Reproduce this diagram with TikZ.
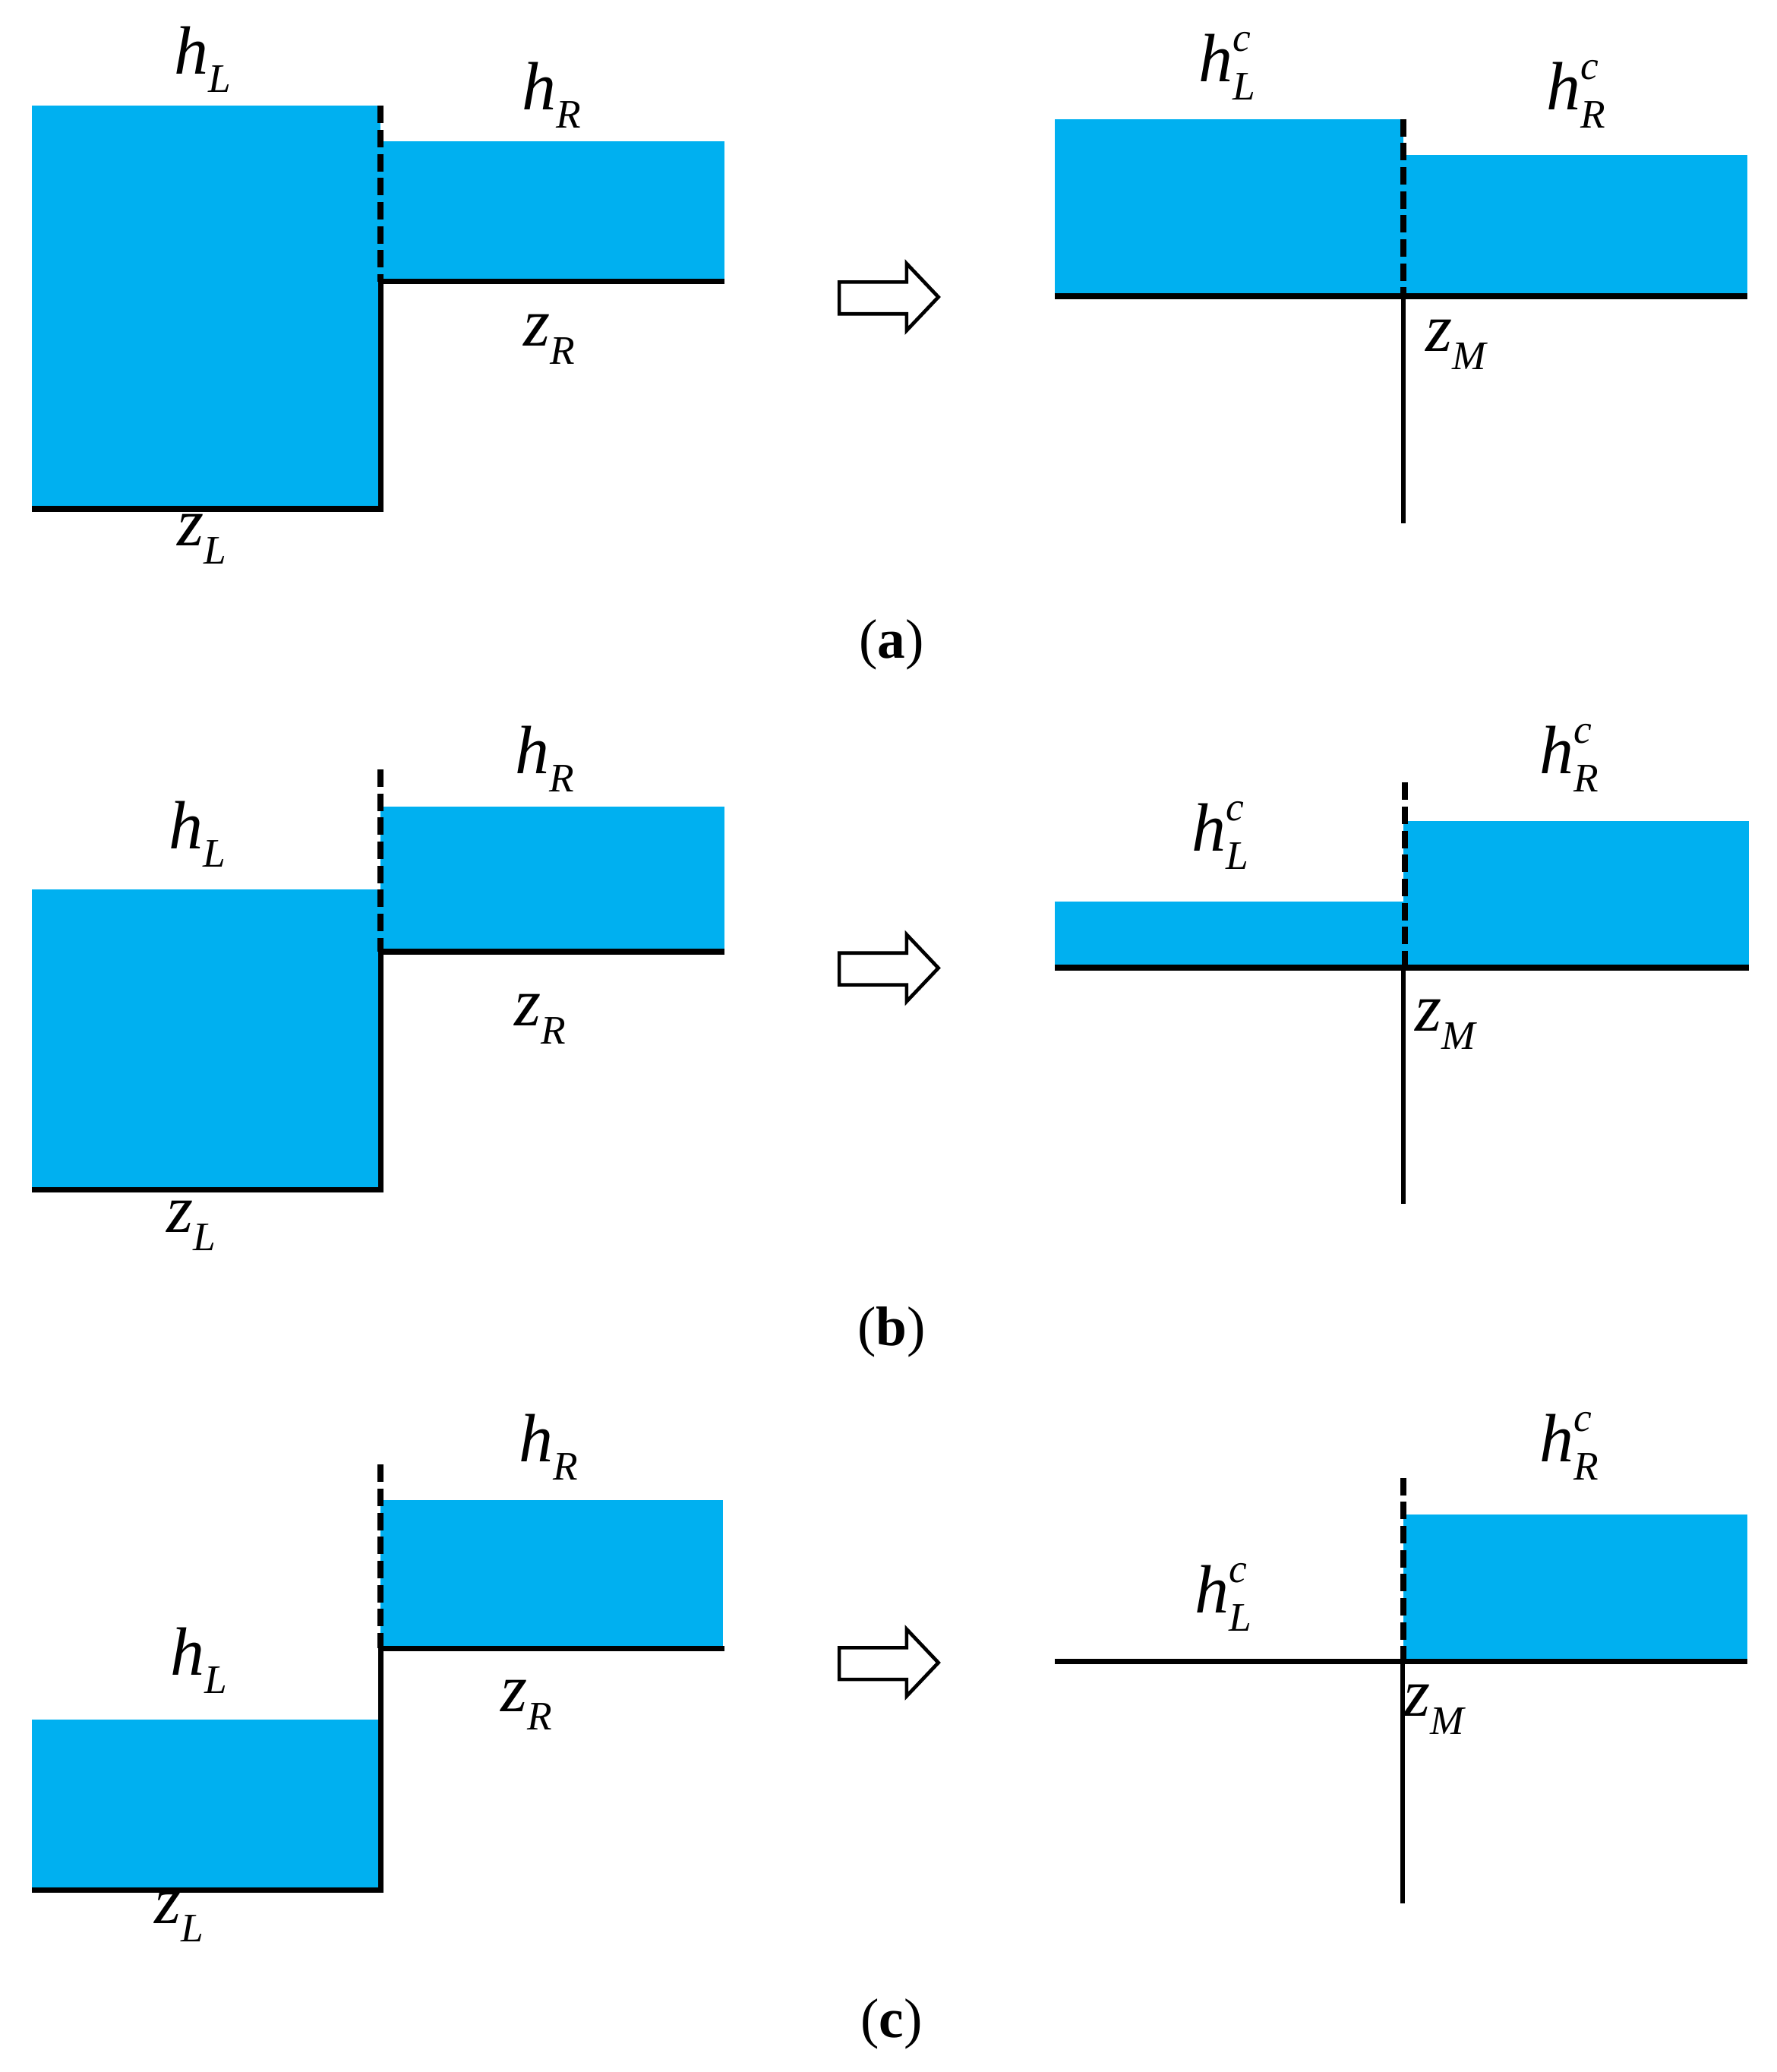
\documentclass[tikz,border=0pt]{standalone}
\usepackage{fontspec}
\setmainfont{Liberation Serif}
\definecolor{watercol}{HTML}{00B0F0}
\newcommand{\mysub}[2]{{\fontsize{27}{27}\selectfont\itshape #1}\raisebox{-7.2pt}{\fontsize{16}{16}\selectfont\itshape #2}}
\newcommand{\mysubsup}[3]{{\fontsize{27}{27}\selectfont\itshape #1}\rlap{\raisebox{-7.2pt}{\fontsize{16}{16}\selectfont\itshape #2}}\raisebox{12pt}{\fontsize{16}{16}\selectfont\itshape #3}}
\tikzset{
  x=0.5221pt,y=-0.5221pt,
  waterfill/.style={fill=watercol,draw=none},
  bed/.style={draw=black,line width=2.2pt,line join=miter},
  thinbed/.style={draw=black,line width=1.8pt},
  gate/.style={draw=black,line width=2.3pt,dash pattern=on 6.9pt off 2.6pt},
  sym/.style={anchor=base west,inner sep=0pt,outer sep=0pt},
  capt/.style={anchor=center,inner sep=0pt,font=\fontsize{22}{22}\selectfont},
  flow/.style={draw=black,fill=white,line width=1.4pt,line join=miter}
}
\newcommand{\flowarrow}[1]{%
  \draw[flow] (635,#1+14) -- (686,#1+14) -- (686,#1) -- (710,#1+25.3) -- (686,#1+50.6) -- (686,#1+38) -- (635,#1+38) -- cycle;}
\begin{document}
\begin{tikzpicture}
\useasboundingbox (0,0) rectangle (1344,1567.5);
% ---- panel a
\fill[waterfill] (24,80) rectangle (288,385);
\fill[waterfill] (288,107) rectangle (548,213);
\draw[gate] (288,80) -- (288,213);
\draw[bed] (24,385) -- (288,385) -- (288,213) -- (548,213);
\node[sym] (ahl) at (132,56) {\mysub{h}{L}};
\node[sym] (ahr) at (395,83) {\mysub{h}{R}};
\node[sym] (azr) at (396,262) {\mysub{z}{R}};
\node[sym] (azl) at (134,413) {\mysub{z}{L}};
\flowarrow{199.4}
\fill[waterfill] (798,90) rectangle (1062,224);
\fill[waterfill] (1062,117) rectangle (1322,224);
\draw[gate] (1062,90) -- (1062,224);
\draw[bed] (798,224) -- (1322,224);
\draw[thinbed] (1062,224) -- (1062,396);
\node[sym] (ahlc) at (907,62) {\mysubsup{h}{L}{c}};
\node[sym] (ahrc) at (1170,83) {\mysubsup{h}{R}{c}};
\node[sym] (azm) at (1079,266) {\mysub{z}{M}};
\node[capt] (capa) at (674.5,488) {(\textbf{a})};
% ---- panel b
\fill[waterfill] (24,673) rectangle (288,900);
\fill[waterfill] (288,610) rectangle (548,720);
\draw[gate] (288,582) -- (288,720);
\draw[bed] (24,900) -- (288,900) -- (288,720) -- (548,720);
\node[sym] (bhl) at (128,642) {\mysub{h}{L}};
\node[sym] (bhr) at (390,585) {\mysub{h}{R}};
\node[sym] (bzr) at (389,776) {\mysub{z}{R}};
\node[sym] (bzl) at (126,932) {\mysub{z}{L}};
\flowarrow{707}
\fill[waterfill] (798,682) rectangle (1062,732);
\fill[waterfill] (1062,621) rectangle (1323,732);
\draw[gate] (1063,592) -- (1063,732);
\draw[bed] (798,732) -- (1323,732);
\draw[thinbed] (1062,732) -- (1062,911);
\node[sym] (bhlc) at (902,644) {\mysubsup{h}{L}{c}};
\node[sym] (bhrc) at (1165,585) {\mysubsup{h}{R}{c}};
\node[sym] (bzm) at (1071,780) {\mysub{z}{M}};
\node[capt] (capb) at (674.5,1008) {(\textbf{b})};
% ---- panel c
\fill[waterfill] (24,1301) rectangle (288,1430);
\fill[waterfill] (288,1135) rectangle (547,1247);
\draw[gate] (288,1108) -- (288,1247);
\draw[bed] (24,1430) -- (288,1430) -- (288,1247) -- (548,1247);
\node[sym] (chl) at (129,1267) {\mysub{h}{L}};
\node[sym] (chr) at (393,1106) {\mysub{h}{R}};
\node[sym] (czr) at (379,1295) {\mysub{z}{R}};
\node[sym] (czl) at (117,1455) {\mysub{z}{L}};
\flowarrow{1232.5}
\fill[waterfill] (1062,1146) rectangle (1322,1257);
\draw[gate] (1062,1118) -- (1062,1257);
\draw[bed] (798,1257) -- (1322,1257);
\draw[thinbed] (1061,1257) -- (1061,1440);
\node[sym] (chlc) at (904,1220) {\mysubsup{h}{L}{c}};
\node[sym] (chrc) at (1165,1106) {\mysubsup{h}{R}{c}};
\node[sym] (czm) at (1062,1298) {\mysub{z}{M}};
\node[capt] (capc) at (674.5,1531) {(\textbf{c})};
\end{tikzpicture}
\end{document}
